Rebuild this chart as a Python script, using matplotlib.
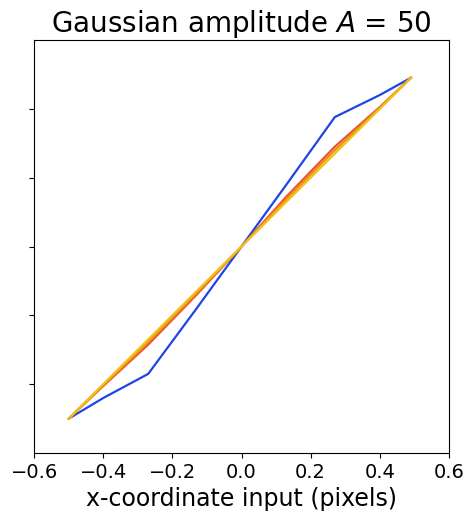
import matplotlib
matplotlib.use("Agg")
import matplotlib.pyplot as plt

x_in = [-0.5, -0.4, -0.27, -0.13, 0.0, 0.13, 0.27, 0.4, 0.49]
y_blue = [-0.5, -0.44, -0.37, -0.18, 0.0, 0.18, 0.376, 0.44, 0.49]
y_red = [-0.5, -0.405, -0.285, -0.14, 0.0, 0.145, 0.29, 0.405, 0.49]
y_orange = [-0.5, -0.402, -0.278, -0.135, 0.0, 0.138, 0.28, 0.402, 0.49]
y_yellow = [-0.5, -0.4, -0.27, -0.13, 0.0, 0.13, 0.27, 0.4, 0.49]

fig, ax = plt.subplots(figsize=(4.74, 5.19), dpi=100)
ax.plot(x_in, y_blue, color="#1f45e8", lw=1.6)
ax.plot(x_in, y_red, color="#e8552a", lw=1.6)
ax.plot(x_in, y_orange, color="#f08c1c", lw=1.6)
ax.plot(x_in, y_yellow, color="#f2c014", lw=1.6)

ax.set_xlim(-0.6, 0.6)
ax.set_ylim(-0.6, 0.6)
ax.set_xticks([-0.6, -0.4, -0.2, 0.0, 0.2, 0.4, 0.6])
ax.set_yticks([-0.4, -0.2, 0.0, 0.2, 0.4])
ax.set_yticklabels([])
ax.tick_params(labelsize=14)
ax.set_xlabel("x-coordinate input (pixels)", fontsize=17)
ax.set_title("Gaussian amplitude $A$ = 50", fontsize=20)
fig.subplots_adjust(left=0.072, right=0.947, top=0.923, bottom=0.127)
fig.savefig("out.png")
